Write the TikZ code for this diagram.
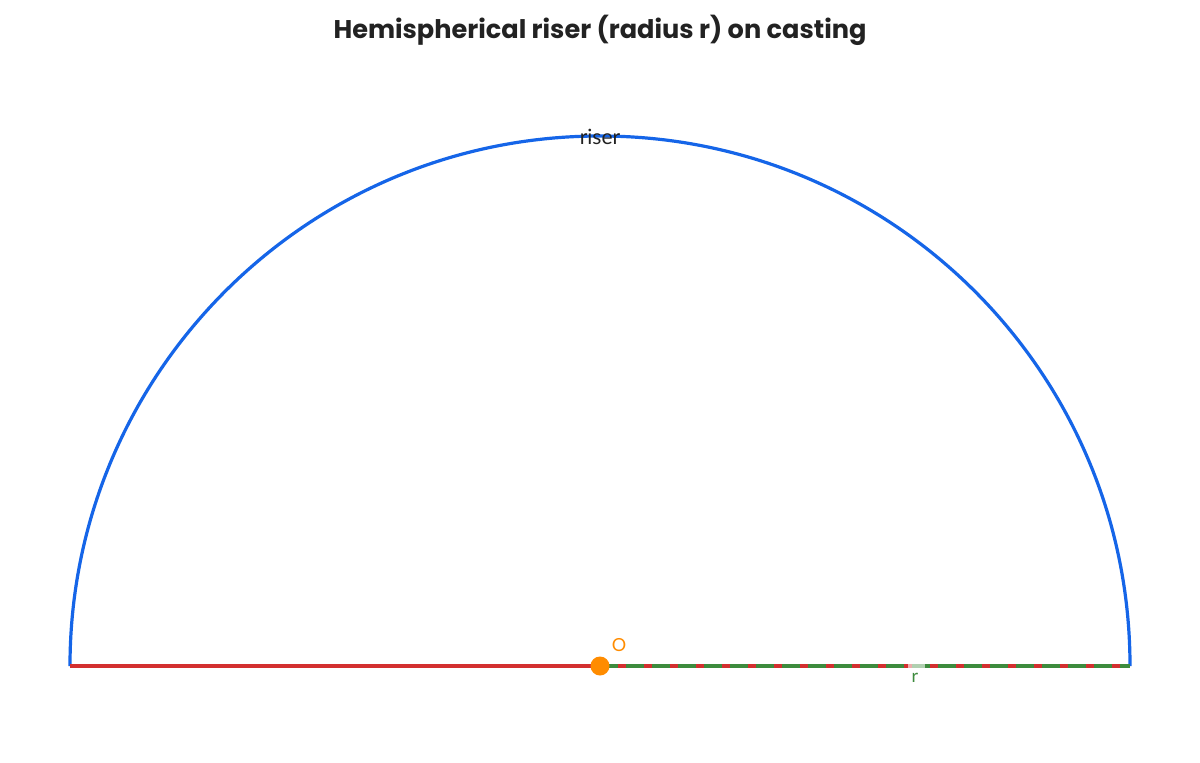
\documentclass[tikz,border=0pt]{standalone}
\usepackage{fontspec}
\setmainfont{Lato}
\newfontfamily\titlefont{Poppins}
\definecolor{rblue}{HTML}{1565E8}
\definecolor{rred}{HTML}{D32F2F}
\definecolor{rgreen}{HTML}{3D8B3D}
\definecolor{rorange}{HTML}{FF8C00}
\definecolor{rtext}{HTML}{222222}
\begin{document}
\begin{tikzpicture}[x=1pt,y=-1pt,
  arcline/.style={draw=rblue,line width=3.2pt},
  baseline/.style={draw=rred,line width=4.2pt},
  radline/.style={draw=rgreen,line width=4.2pt,dash pattern=on 18pt off 8pt},
  lbl/.style={font=\fontsize{18}{20}\selectfont,inner sep=0pt}]
\useasboundingbox[fill=white] (0,0) rectangle (1200,763);
\coordinate (L) at (70,666);
\coordinate (R) at (1130,666);
\coordinate (O) at (600,666);
\draw[arcline] (L) arc[start angle=180,end angle=360,radius=530];
\draw[baseline] (L) -- (R);
\draw[radline] (O) -- (R);
\fill[white,opacity=0.6] (908,663) rectangle (925,669);
\fill[rorange] (O) circle[radius=9.5];
\node[lbl,text=rtext] (title) at (600,30) {\titlefont\fontsize{25.6}{30}\selectfont\bfseries Hemispherical riser (radius r) on casting};
\node[lbl,text=rtext,font=\fontsize{21}{24}\selectfont] (riser) at (600,137) {riser};
\node[lbl,text=rorange] (Olab) at (619,645) {O};
\node[lbl,text=rgreen] (rlab) at (915,678) {r};
\end{tikzpicture}
\end{document}
